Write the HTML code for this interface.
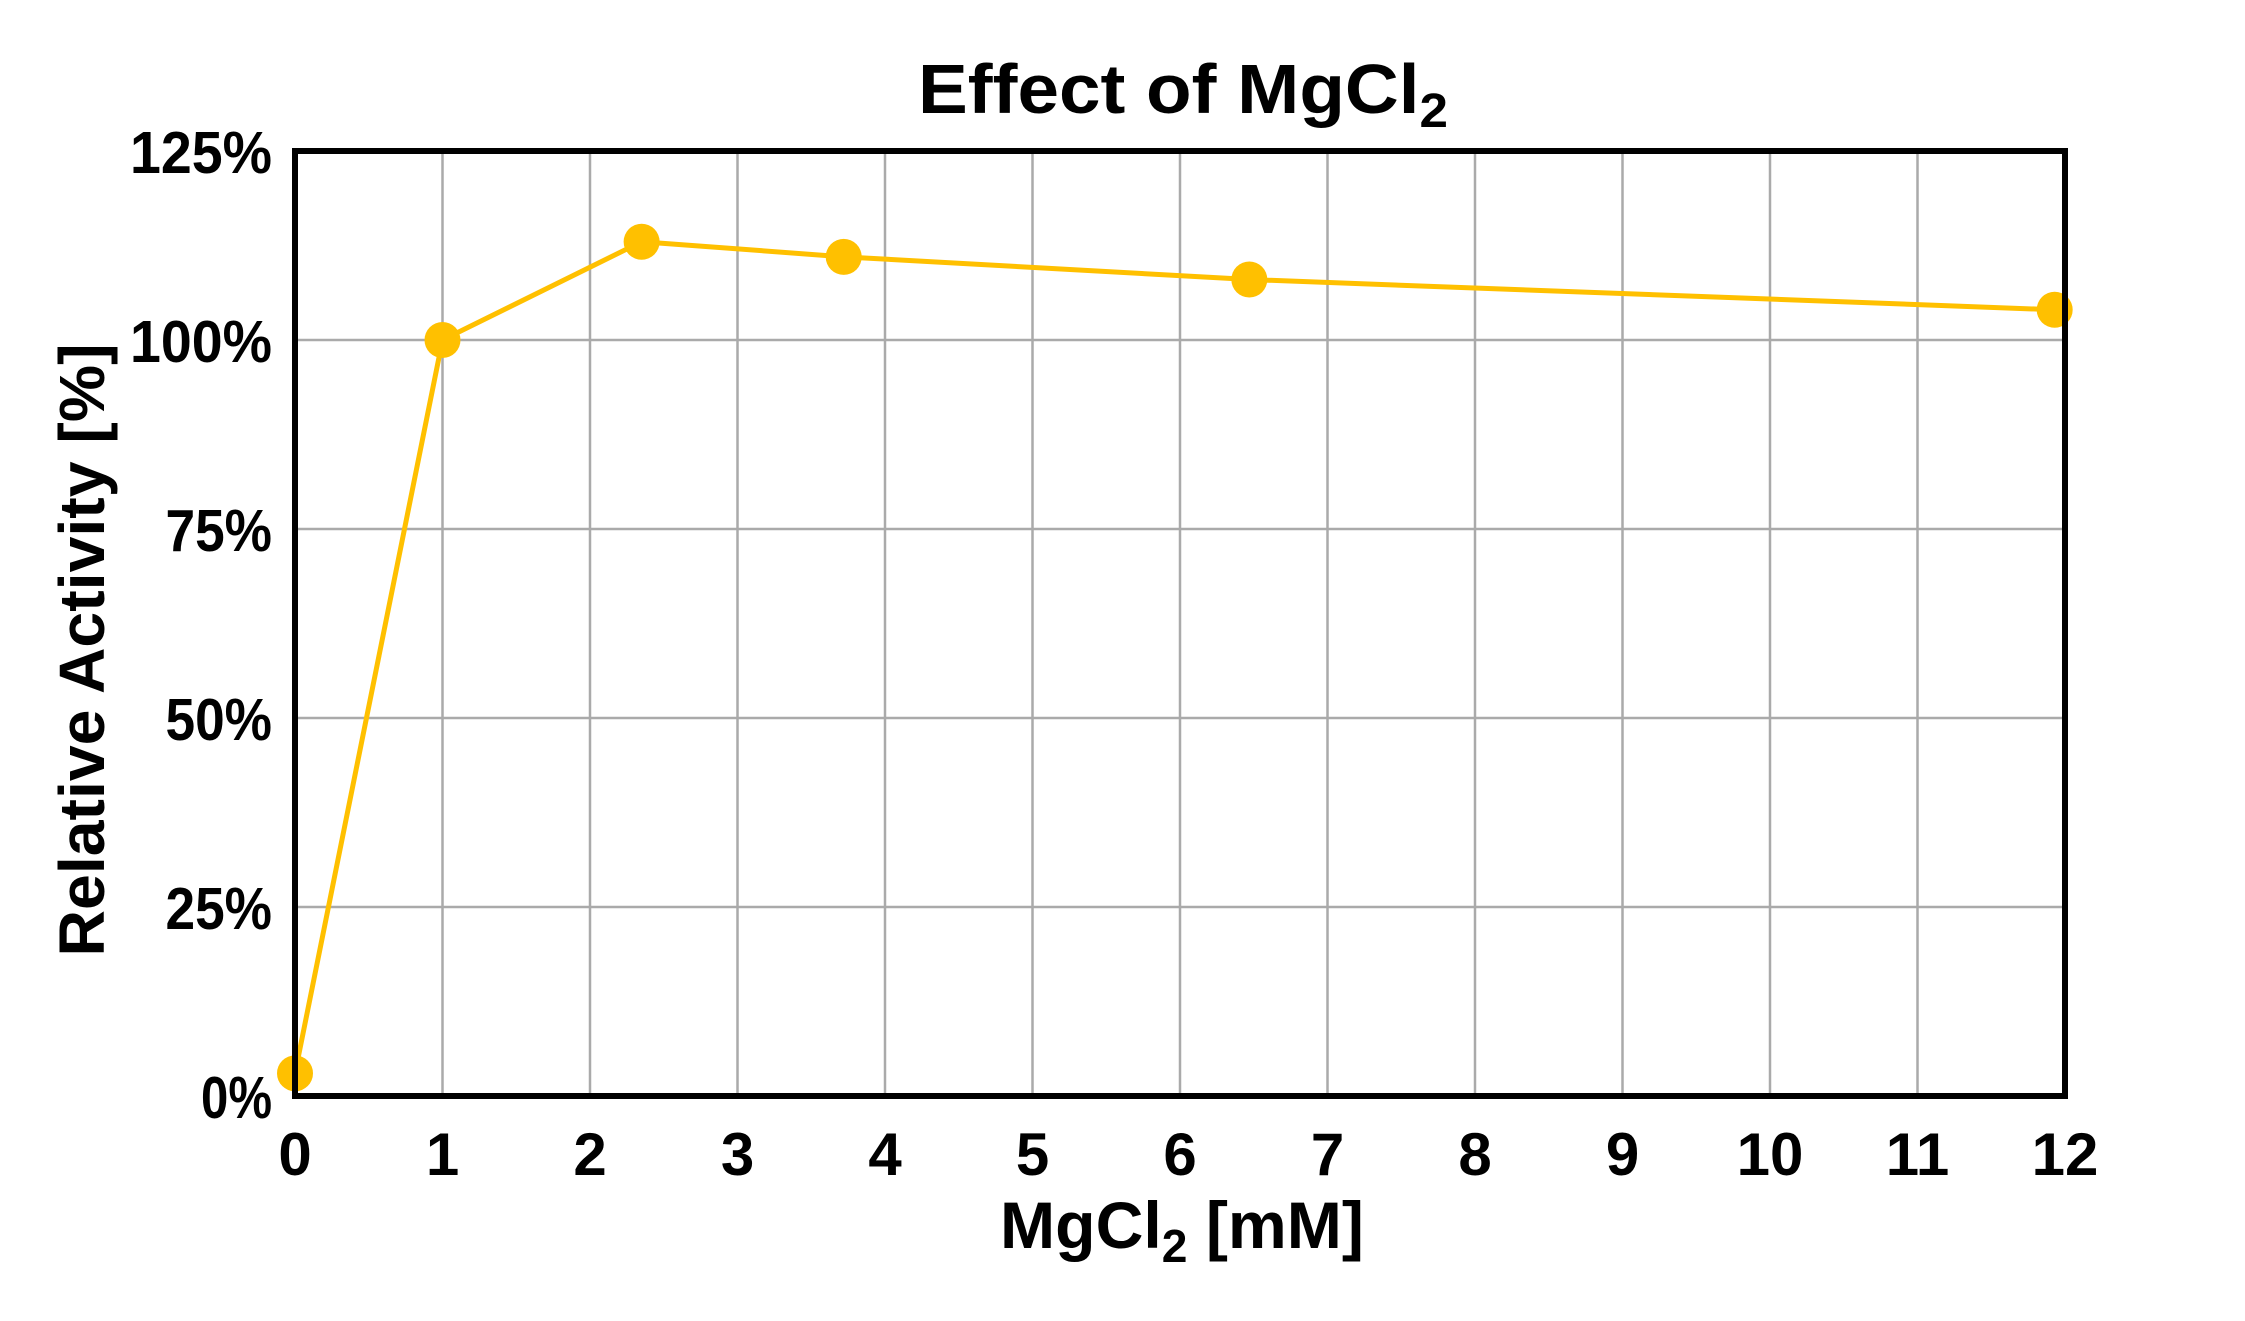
<!DOCTYPE html>
<html><head><meta charset="utf-8"><style>
html,body{margin:0;padding:0;background:#fff}
svg text{font-family:"Liberation Sans",sans-serif;font-weight:bold;fill:#000}
</style></head><body>
<svg id="chart" width="2245" height="1316" viewBox="0 0 2245 1316" xmlns="http://www.w3.org/2000/svg">
<g id="grid"></g>
<g id="series"></g>
<rect x="295" y="151" width="1770" height="945" fill="none" stroke="#000" stroke-width="6"/>
<g id="ticks"></g>
<text x="1183" y="113" font-size="70" text-anchor="middle" textLength="530" lengthAdjust="spacingAndGlyphs">Effect of MgCl<tspan font-size="48" dy="14">2</tspan></text>
<text x="1182" y="1248" font-size="66" text-anchor="middle" textLength="364" lengthAdjust="spacingAndGlyphs">MgCl<tspan font-size="46" dy="14">2</tspan><tspan dy="-14"> [mM]</tspan></text>
<text transform="translate(104,650) rotate(-90)" font-size="64" text-anchor="middle" textLength="613" lengthAdjust="spacingAndGlyphs">Relative Activity [%]</text>
</svg>
<script>
const xValues = [0, 1, 2.35, 3.72, 6.47, 11.93];
const yValues = [3, 100, 113, 111, 108, 104];
const xTicks = [0,1,2,3,4,5,6,7,8,9,10,11,12];
const yTicks = [0,25,50,75,100,125];
const yTickLabels = ["0%","25%","50%","75%","100%","125%"];
const NS = "http://www.w3.org/2000/svg";
const L=295,R=2065,T=151,B=1096;
const xs = v => L + (v-0)/(12-0)*(R-L);
const ys = v => B - (v-0)/(125-0)*(B-T);
function mk(tag, attrs, parent){const e=document.createElementNS(NS,tag);for(const k in attrs)e.setAttribute(k,attrs[k]);parent.appendChild(e);return e;}
const grid=document.getElementById('grid'), ticks=document.getElementById('ticks'), series=document.getElementById('series');
xTicks.forEach(t=>{
  const l=mk('line',{x1:xs(t),x2:xs(t),y1:T,y2:B,stroke:'#aaa','stroke-width':2.5},grid);
  
  
  const tx=mk('text',{x:xs(t),y:1175,'font-size':60,'text-anchor':'middle'},ticks);
  tx.textContent=String(t);
  
  
});
yTicks.forEach((t,i)=>{
  const l=mk('line',{x1:L,x2:R,y1:ys(t),y2:ys(t),stroke:'#aaa','stroke-width':2.5},grid);
  
  
  const tx=mk('text',{x:272,y:ys(t)+22,'font-size':59,'text-anchor':'end',textLength:(yTickLabels[i].length*35.5),lengthAdjust:'spacingAndGlyphs'},ticks);
  tx.textContent=yTickLabels[i];
  
  
});
const pts=xValues.map((x,i)=>xs(x)+','+ys(yValues[i])).join(' ');
const pl=mk('polyline',{points:pts,fill:'none',stroke:'#FFC000','stroke-width':5,'stroke-linejoin':'round'},series);


xValues.forEach((x,i)=>{
  const c=mk('circle',{cx:xs(x),cy:ys(yValues[i]),r:18,fill:'#FFC000'},series);
  
  
});
</script>
</body></html>
